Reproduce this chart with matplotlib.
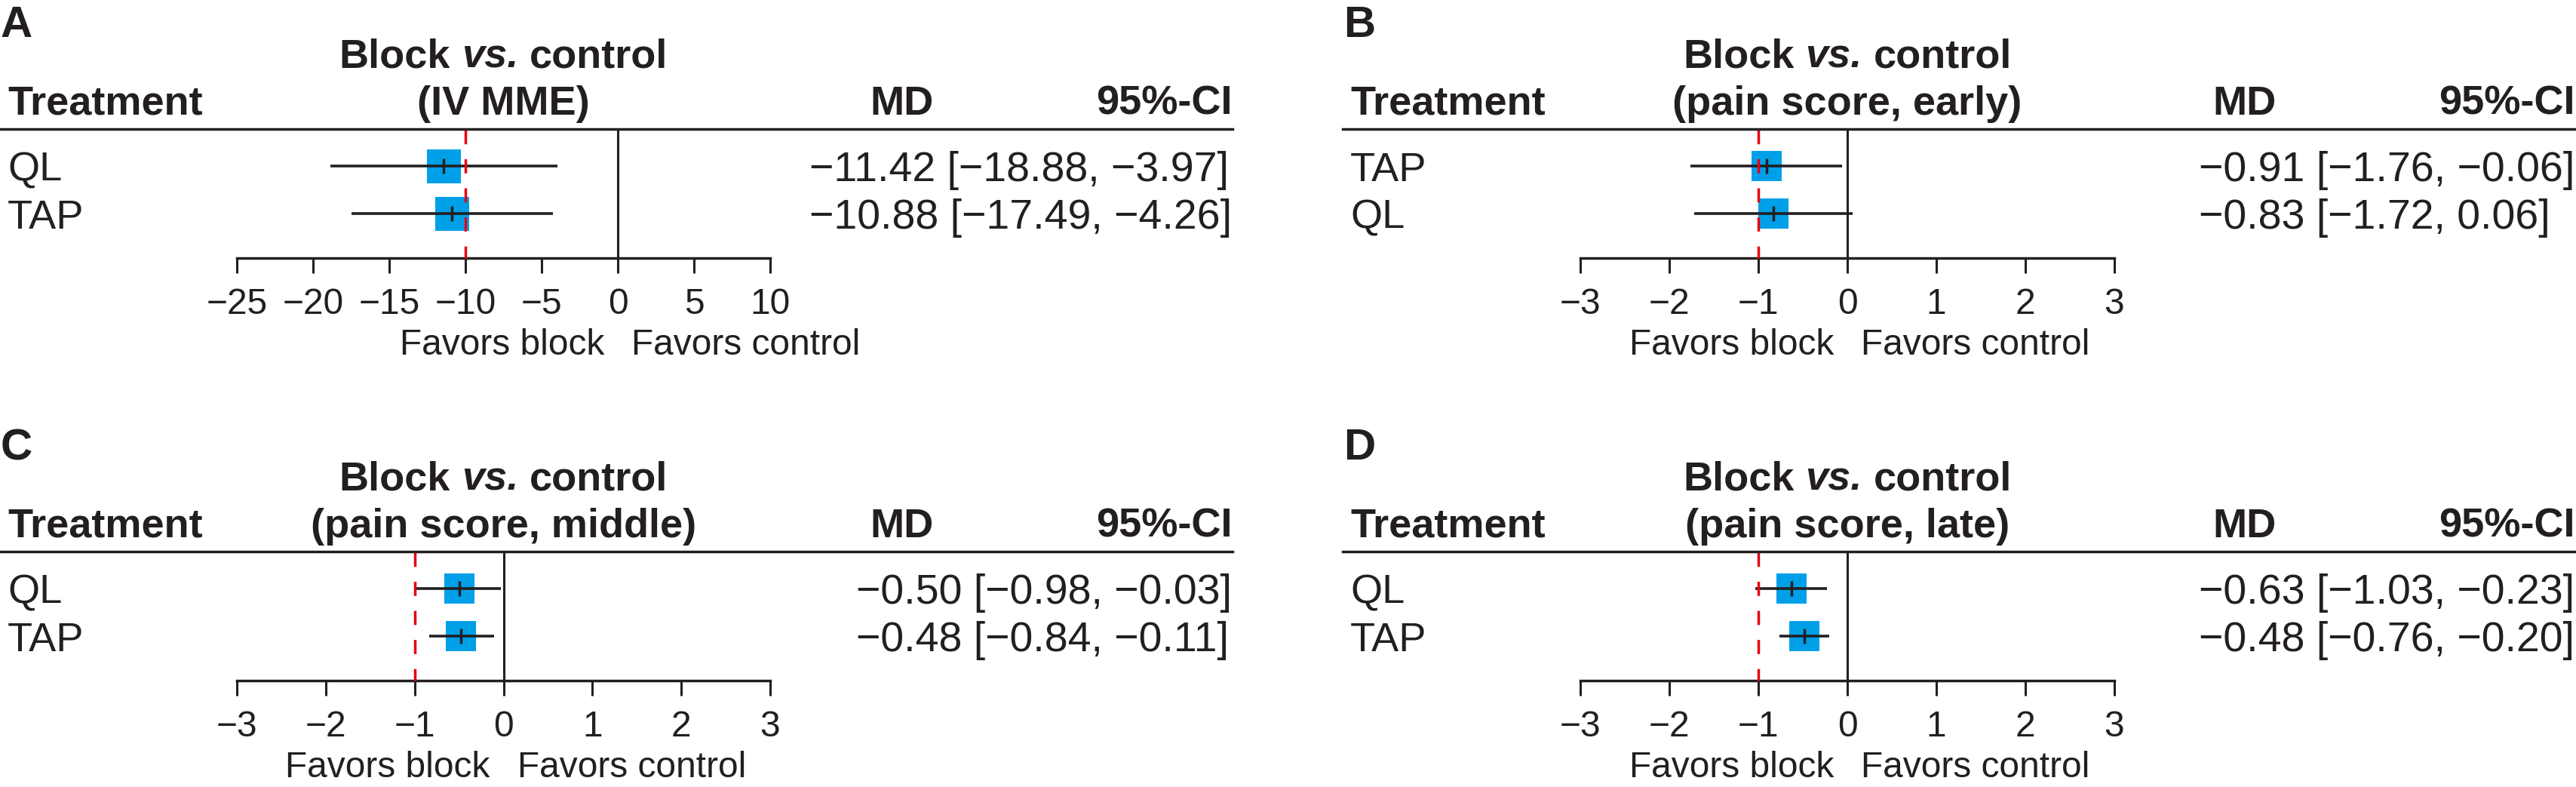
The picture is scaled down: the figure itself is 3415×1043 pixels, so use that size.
import numpy as np
import matplotlib
matplotlib.use("Agg")
import matplotlib.pyplot as plt
from matplotlib import transforms
from matplotlib.lines import Line2D

# ---------------- data ----------------
panel_ids = ["A", "B", "C", "D"]
title_line2 = ["(IV MME)", "(pain score, early)", "(pain score, middle)", "(pain score, late)"]
treatments_A = ["QL", "TAP"]
treatments_B = ["TAP", "QL"]
treatments_C = ["QL", "TAP"]
treatments_D = ["QL", "TAP"]
md_A = [-11.42, -10.88]
md_B = [-0.91, -0.83]
md_C = [-0.50, -0.48]
md_D = [-0.63, -0.48]
lower_A = [-18.88, -17.49]
lower_B = [-1.76, -1.72]
lower_C = [-0.98, -0.84]
lower_D = [-1.03, -0.76]
upper_A = [-3.97, -4.26]
upper_B = [-0.06, 0.06]
upper_C = [-0.03, -0.11]
upper_D = [-0.23, -0.20]
reference_lines = [-10, -1, -1, -1]
xticks_A = [-25, -20, -15, -10, -5, 0, 5, 10]
xticks_pain = [-3, -2, -1, 0, 1, 2, 3]

treatments = [treatments_A, treatments_B, treatments_C, treatments_D]
mds = [md_A, md_B, md_C, md_D]
lowers = [lower_A, lower_B, lower_C, lower_D]
uppers = [upper_A, upper_B, upper_C, upper_D]
xticks_all = [xticks_A, xticks_pain, xticks_pain, xticks_pain]

# ---------------- style / layout ----------------
W, H, DPI = 3416, 1043, 100
INK = "#231F20"
BLUE = "#00A0E9"
RED = "#E60012"
plt.rcParams["font.family"] = ["Liberation Sans", "DejaVu Sans"]
plt.rcParams["axes.unicode_minus"] = True

# (text-left px, top offset px, axes left px, axes right px, square size pt)
geo = {
    "A": (0, 0, 314, 1021, 32.4),
    "B": (1780, 0, 2095, 2803, 29.0),
    "C": (0, 560, 314, 1021, 29.0),
    "D": (1780, 560, 2095, 2803, 29.0),
}
TEXT_W = 1634
FS_BOLD = 39
FS_VAL = 40
FS_TICK = 34.5
FS_LETTER = 42
YLIM = (2.937, 0.238)
LW_RULE = 2.5


def fx(px):
    return px / W


def fy(py):
    return 1 - py / H


def fmt(v):
    return f"{v:.2f}".replace("-", "\u2212")


fig = plt.figure(figsize=(W / DPI, H / DPI), dpi=DPI)
fig.patch.set_facecolor("white")
renderer = fig.canvas.get_renderer()


def text_width(s, **kw):
    t = fig.text(0, 0, s, **kw)
    w = t.get_window_extent(renderer).width
    t.remove()
    return w


for i, pid in enumerate(panel_ids):
    tl, y0, axl, axr, sq = geo[pid]
    right = tl + TEXT_W - 1
    n = len(treatments[i])
    rows = np.arange(1, n + 1)

    ax = fig.add_axes([fx(axl), fy(y0 + 342), fx(axr - axl), 170 / H])
    ax.set_xlim(xticks_all[i][0], xticks_all[i][-1])
    ax.set_ylim(*YLIM)
    ax.patch.set_alpha(0)

    # zero line
    ax.plot([0, 0], [YLIM[1], YLIM[0]], color=INK, lw=2.2, clip_on=False, zorder=1)
    # squares
    ax.plot(mds[i], rows, "s", ms=sq, color=BLUE, mew=0, zorder=2, clip_on=False)
    # CI lines
    ax.hlines(rows, lowers[i], uppers[i], color=INK, lw=2.6, zorder=3)
    # estimate tick
    ax.plot(mds[i], rows, "|", ms=14.4, mew=2.5, color=INK, zorder=4, clip_on=False)
    # reference dashed line
    ax.plot([reference_lines[i]] * 2, [YLIM[1], YLIM[0]], color=RED, lw=2.5,
            dashes=(5.4, 5.7), clip_on=False, zorder=5)

    for s in ["top", "left", "right"]:
        ax.spines[s].set_visible(False)
    ax.spines["bottom"].set_linewidth(LW_RULE)
    ax.spines["bottom"].set_color(INK)
    ax.set_yticks([])
    ax.set_xticks(xticks_all[i])
    ax.tick_params(axis="x", direction="out", length=14.4, width=2.2, pad=14,
                   labelsize=FS_TICK, colors=INK)

    # panel letter
    fig.text(fx(tl + 1), fy(y0 + 49), pid, fontsize=FS_LETTER, fontweight="bold",
             color=INK, ha="left", va="baseline")

    # title line 1 with italic "vs."
    center = (axl + axr) / 2
    w_block = text_width("Block", fontsize=FS_BOLD, fontweight="bold")
    w_vs = text_width("vs.", fontsize=FS_BOLD, fontweight="bold", fontstyle="italic")
    w_ctrl = text_width("control", fontsize=FS_BOLD, fontweight="bold")
    w_sp = (text_width("B B", fontsize=FS_BOLD, fontweight="bold")
            - text_width("BB", fontsize=FS_BOLD, fontweight="bold"))
    total = w_block + w_vs + w_ctrl + 2 * w_sp
    x = center - total / 2
    for piece, w, style in [("Block", w_block, "normal"), ("vs.", w_vs, "italic"),
                            ("control", w_ctrl, "normal")]:
        fig.text(fx(x), fy(y0 + 89), piece, fontsize=FS_BOLD, fontweight="bold",
                 fontstyle=style, color=INK, ha="left", va="baseline")
        x += w + w_sp

    # header line
    fig.text(fx(center), fy(y0 + 152), title_line2[i], fontsize=FS_BOLD,
             fontweight="bold", color=INK, ha="center", va="baseline")
    fig.text(fx(tl + 10), fy(y0 + 152), "Treatment", fontsize=FS_BOLD,
             fontweight="bold", color=INK, ha="left", va="baseline")
    fig.text(fx(right - 395), fy(y0 + 152), "MD", fontsize=FS_BOLD,
             fontweight="bold", color=INK, ha="right", va="baseline")
    fig.text(fx(right + 1), fy(y0 + 152), "95%-CI", fontsize=FS_BOLD,
             fontweight="bold", color=INK, ha="right", va="baseline")

    # separator
    fig.add_artist(Line2D([fx(tl), fx(tl + TEXT_W)], [fy(y0 + 171)] * 2,
                          color=INK, lw=LW_RULE, transform=fig.transFigure))

    # row texts
    trans_row = (transforms.blended_transform_factory(fig.transFigure, ax.transData)
                 + transforms.ScaledTranslation(0, -20 / DPI, fig.dpi_scale_trans))
    vals = [f"{fmt(m)} [{fmt(lo)}, {fmt(hi)}]"
            for m, lo, hi in zip(mds[i], lowers[i], uppers[i])]
    maxw = max(text_width(v, fontsize=FS_VAL) for v in vals)
    for r, name, v in zip(rows, treatments[i], vals):
        fig.text(fx(tl + 10), r, name, fontsize=FS_BOLD, color=INK, ha="left",
                 va="baseline", transform=trans_row)
        fig.text(fx(right - maxw), r, v, fontsize=FS_VAL, color=INK, ha="left",
                 va="baseline", transform=trans_row)

    # favors labels
    tb = transforms.blended_transform_factory(ax.transData, fig.transFigure)
    fig.text(0, fy(y0 + 470), "Favors block", fontsize=FS_TICK, color=INK,
             ha="right", va="baseline",
             transform=tb + transforms.ScaledTranslation(-18 / DPI, 0, fig.dpi_scale_trans))
    fig.text(0, fy(y0 + 470), "Favors control", fontsize=FS_TICK, color=INK,
             ha="left", va="baseline",
             transform=tb + transforms.ScaledTranslation(18 / DPI, 0, fig.dpi_scale_trans))

fig.savefig("out.png", dpi=DPI, facecolor="white")
